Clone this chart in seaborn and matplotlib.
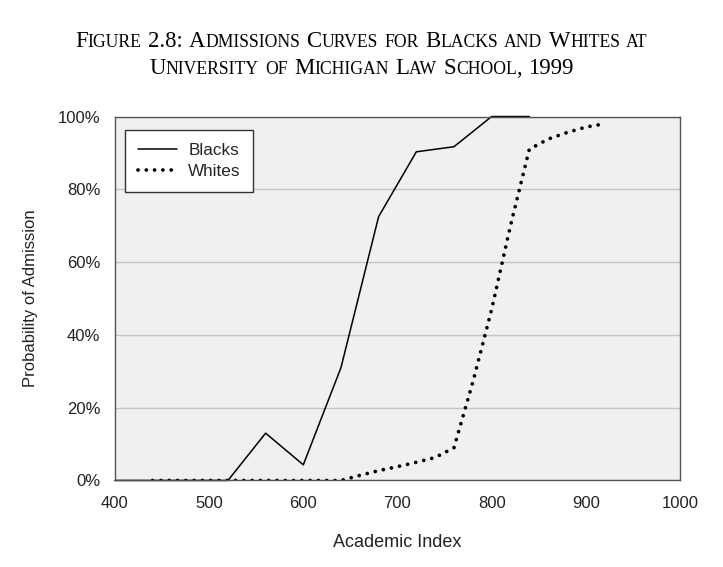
import matplotlib
matplotlib.use("Agg")
import matplotlib.pyplot as plt
import seaborn as sns
import pandas as pd
from matplotlib.ticker import PercentFormatter, MultipleLocator
from matplotlib.offsetbox import TextArea, HPacker, VPacker, AnchoredOffsetbox

# dados (indice academico x probabilidade de admissao em %)
indice_negros = [400, 440, 480, 520, 560, 600, 640, 680, 720, 760, 800, 840]
prob_negros = [0, 0, 0, 0, 13.0, 4.3, 31.0, 72.5, 90.3, 91.7, 100, 100]

indice_brancos = [440, 460, 480, 500, 520, 540, 560, 580, 600, 620, 640,
                  660, 680, 700, 720, 740, 760, 780, 800, 820, 840, 860, 880, 900, 920]
prob_brancos = [0, 0, 0, 0, 0, 0, 0, 0, 0, 0, 0,
                1.4, 2.7, 3.8, 5.0, 6.3, 9.0, 27, 47, 70, 91, 93.8, 95.6, 97.1, 98.0]

titulo_linhas = ["Figure 2.8: Admissions Curves for Blacks and Whites at",
                 "University of Michigan Law School, 1999"]

df_negros = pd.DataFrame({"indice": indice_negros, "prob": prob_negros})
df_brancos = pd.DataFrame({"indice": indice_brancos, "prob": prob_brancos})

sns.set_style("white")
plt.rcParams['font.family'] = ['Liberation Sans', 'DejaVu Sans']

fig = plt.figure(figsize=(7.23, 5.67), dpi=100)
ax = fig.add_axes([0.159, 0.1526, 0.7815, 0.6419])
ax.set_facecolor("#f0f0f0")

sns.lineplot(data=df_negros, x="indice", y="prob", ax=ax, color="black",
             linewidth=1.1, label="Blacks", estimator=None, clip_on=False)
sns.lineplot(data=df_brancos, x="indice", y="prob", ax=ax, color="black",
             linewidth=2.7, linestyle=(0, (0.01, 2.2)), dash_capstyle="round",
             label="Whites", estimator=None)

ax.set_xlim(400, 1000)
ax.set_ylim(0, 100)
ax.xaxis.set_major_locator(MultipleLocator(100))
ax.yaxis.set_major_locator(MultipleLocator(20))
ax.yaxis.set_major_formatter(PercentFormatter(100, decimals=0))
ax.grid(axis="y", color="#c4c4c4", linewidth=1.0)
ax.set_axisbelow(True)

for s in ax.spines.values():
    s.set_color("#555555")
    s.set_linewidth(1.0)

ax.tick_params(axis="both", width=1, color="#555555",
               labelsize=12, labelcolor="#222222")
ax.tick_params(axis="x", direction="inout", length=7, pad=8)
ax.tick_params(axis="y", direction="inout", length=7, pad=7)

ax.set_xlabel("Academic Index", fontsize=13, color="#222222", labelpad=16)
ax.set_ylabel("Probability of Admission", fontsize=12, color="#222222", labelpad=14)

leg = ax.legend(loc="upper left", bbox_to_anchor=(0.0177, 0.963), borderaxespad=0,
                fontsize=12.3, frameon=True, fancybox=False, handlelength=2.3,
                handletextpad=0.65, borderpad=0.75, labelspacing=0.35)
leg.get_frame().set_edgecolor("#333333")
leg.get_frame().set_linewidth(1.0)
leg.get_frame().set_facecolor("white")
leg.get_frame().set_alpha(1)


# titulo em versalete (small caps) montado com pedacos de texto
def versalete(palavra, grande=16.4, pequeno=12.7):
    pedacos = []
    atual, tam_atual = "", None
    for c in palavra:
        if c.islower():
            tam, ch = pequeno, c.upper()
        else:
            tam, ch = grande, c
        if tam != tam_atual and atual:
            pedacos.append((atual, tam_atual))
            atual = ""
        atual += ch
        tam_atual = tam
    if atual:
        pedacos.append((atual, tam_atual))
    caixas = [TextArea(t, textprops=dict(fontsize=sz, family="Liberation Serif", color="black"))
              for t, sz in pedacos]
    return HPacker(children=caixas, align="baseline", pad=0, sep=0)


linhas = []
for linha in titulo_linhas:
    palavras = [versalete(p) for p in linha.split(" ")]
    linhas.append(HPacker(children=palavras, align="baseline", pad=0, sep=4.5))
bloco = VPacker(children=linhas, align="center", pad=0, sep=4)
caixa = AnchoredOffsetbox(loc="center", child=bloco, frameon=False,
                          bbox_to_anchor=(0.5, 0.903), bbox_transform=fig.transFigure,
                          borderpad=0, pad=0)
fig.add_artist(caixa)

fig.savefig("out.png", dpi=100)
